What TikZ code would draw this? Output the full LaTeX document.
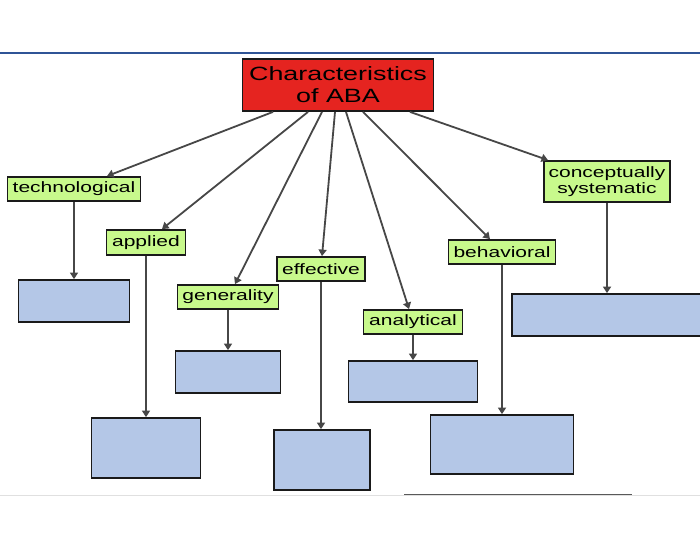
\documentclass[tikz,border=0pt]{standalone}
\usepackage{fontspec}
\setmainfont{Liberation Sans}[FakeStretch=1.4]
\usetikzlibrary{arrows.meta}
\definecolor{titlered}{HTML}{E52420}
\definecolor{lime}{HTML}{C8F98C}
\definecolor{paleblue}{HTML}{B4C7E7}
\definecolor{edgegray}{HTML}{474747}
\definecolor{slideblue}{HTML}{2F5496}
\definecolor{bordk}{HTML}{1A1A1A}
\tikzset{
  titlebox/.style={draw=bordk, line width=1.8pt, fill=titlered, inner sep=0pt, align=center,
    font=\fontsize{19.2}{22}\selectfont},
  greenbox/.style={draw=bordk, line width=1.8pt, fill=lime, inner sep=0pt, align=center,
    font=\fontsize{15}{16}\selectfont, minimum height=24pt},
  bluebox/.style={draw=bordk, line width=1.8pt, fill=paleblue, inner sep=0pt},
  link/.style={draw=edgegray, line width=1.8pt, -{Triangle[length=6.5pt,width=8pt]}},
}
\begin{document}
\begin{tikzpicture}[x=1pt,y=-1pt]
\useasboundingbox (0,0) rectangle (700,550);
\fill[white] (0,0) rectangle (700,550);
% slide lines
\coordinate (tl) at (0,53);
\coordinate (tr) at (700,53);
\draw[slideblue, line width=2pt] (tl) -- (tr);
\coordinate (bl) at (0,495.5);
\coordinate (br) at (700,495.5);
\draw[black!12, line width=1.5pt] (bl) -- (br);
\coordinate (sl) at (404,494);
\coordinate (sr) at (632,494);
\draw[black!65, line width=1pt] (sl) -- (sr);

% title
\node[titlebox, minimum width=191pt, minimum height=52pt] (title) at (338,85) {Characteristics\\of ABA};

% green nodes
\node[greenbox, minimum width=133pt] (tech) at (74,189) {technological};
\node[greenbox, minimum width=79pt, minimum height=25pt] (appl) at (146,242.5) {applied};
\node[greenbox, minimum width=101pt] (gen) at (228,297) {generality};
\node[greenbox, minimum width=88pt] (eff) at (321,269) {effective};
\node[greenbox, minimum width=99pt] (ana) at (413,322) {analytical};
\node[greenbox, minimum width=107pt] (beh) at (502,252) {behavioral};
\node[greenbox, minimum width=126pt, minimum height=41pt] (con) at (607,181.5) {conceptually\\systematic};

% blue boxes
\node[bluebox, minimum width=111pt, minimum height=42pt] (btech) at (74,301) {};
\node[bluebox, minimum width=109pt, minimum height=60pt] (bappl) at (146,448) {};
\node[bluebox, minimum width=105pt, minimum height=42pt] (bgen) at (228,372) {};
\node[bluebox, minimum width=96pt, minimum height=60pt] (beff) at (322,460) {};
\node[bluebox, minimum width=129pt, minimum height=41pt] (bana) at (413,381.5) {};
\node[bluebox, minimum width=143pt, minimum height=59pt] (bbeh) at (502,444.5) {};
\node[bluebox, minimum width=192pt, minimum height=42pt] (bcon) at (608,315) {};

% links from title
\draw[link] ([xshift=-65pt]title.south) -- ([xshift=33pt]tech.north);
\draw[link] ([xshift=-30pt]title.south) -- ([xshift=16pt]appl.north);
\draw[link] ([xshift=-16pt]title.south) -- ([xshift=7pt]gen.north);
\draw[link] ([xshift=-3pt]title.south) -- ([xshift=1pt]eff.north);
\draw[link] ([xshift=8pt]title.south) -- ([xshift=-4pt]ana.north);
\draw[link] ([xshift=25pt]title.south) -- ([xshift=-12pt]beh.north);
\draw[link] ([xshift=72pt]title.south) -- ([xshift=-59pt]con.north);

% links down
\draw[link] (tech.south) -- (tech.south |- btech.north);
\draw[link] (appl.south) -- (appl.south |- bappl.north);
\draw[link] (gen.south) -- (gen.south |- bgen.north);
\draw[link] (eff.south) -- (eff.south |- beff.north);
\draw[link] (ana.south) -- (ana.south |- bana.north);
\draw[link] (beh.south) -- (beh.south |- bbeh.north);
\draw[link] (con.south) -- (con.south |- bcon.north);
\end{tikzpicture}
\end{document}
